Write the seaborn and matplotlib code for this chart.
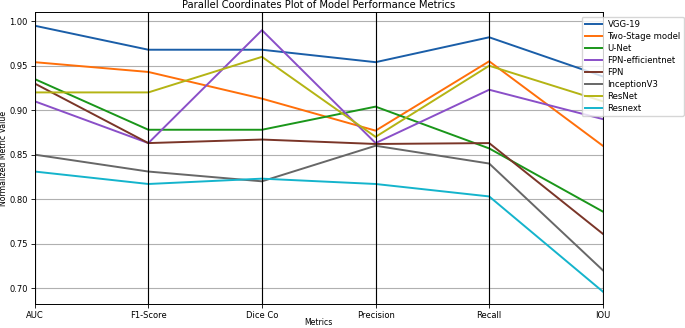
import pandas as pd
import matplotlib.pyplot as plt
import seaborn as sns

metrics = ["AUC", "F1-Score", "Dice Co", "Precision", "Recall", "IOU"]

models = ["VGG-19", "Two-Stage model", "U-Net", "FPN-efficientnet",
          "FPN", "InceptionV3", "ResNet", "Resnext"]

vgg19 = [0.995, 0.968, 0.968, 0.954, 0.982, 0.938]
two_stage = [0.954, 0.943, 0.913, 0.877, 0.955, 0.860]
unet = [0.935, 0.878, 0.878, 0.904, 0.857, 0.786]
fpn_eff = [0.910, 0.863, 0.990, 0.863, 0.923, 0.890]
fpn = [0.930, 0.863, 0.867, 0.862, 0.863, 0.761]
inception = [0.850, 0.831, 0.820, 0.860, 0.840, 0.720]
resnet = [0.920, 0.920, 0.960, 0.870, 0.950, 0.910]
resnext = [0.831, 0.817, 0.823, 0.817, 0.803, 0.696]

colors = ["#1a5ea8", "#ff6f0a", "#1a961a", "#8a4fc8",
          "#7a3528", "#676767", "#b4b414", "#14b4cc"]


def main():
    values = [vgg19, two_stage, unet, fpn_eff, fpn, inception, resnet, resnext]
    rows = []
    for name, vals in zip(models, values):
        for m, v in zip(metrics, vals):
            rows.append({"Model": name, "Metric": m, "Value": v})
    df = pd.DataFrame(rows)

    plt.rcParams["font.size"] = 6
    fig, ax = plt.subplots(figsize=(6.85, 3.28), dpi=100)

    sns.lineplot(data=df, x="Metric", y="Value", hue="Model",
                 hue_order=models, palette=colors, linewidth=1.4,
                 sort=False, ax=ax)

    for i in range(len(metrics)):
        ax.axvline(i, color="black", linewidth=0.8)

    ax.set_xlim(0, len(metrics) - 1)
    ax.set_ylim(0.6817, 1.0101)
    ax.grid(True, color="#b0b0b0", linewidth=0.8)
    ax.tick_params(length=3, width=0.6, pad=2)
    for s in ax.spines.values():
        s.set_linewidth(0.7)

    ax.set_title("Parallel Coordinates Plot of Model Performance Metrics",
                 fontsize=7.2, pad=3)
    ax.set_xlabel("Metrics", fontsize=5.6)
    ax.set_ylabel("Normalized Metric Value", fontsize=5.6)
    ax.xaxis.set_label_coords(0.5, -0.047)
    ax.yaxis.set_label_coords(-0.047, 0.5)
    ax.legend(loc="upper right", bbox_to_anchor=(1.15, 1.0), title=None,
              fontsize=6.1, labelspacing=0.36, borderpad=0.35,
              handletextpad=0.7)

    fig.subplots_adjust(left=0.0507, right=0.880, top=0.9625, bottom=0.0723)
    fig.savefig("out.png", dpi=100)


if __name__ == "__main__":
    main()
